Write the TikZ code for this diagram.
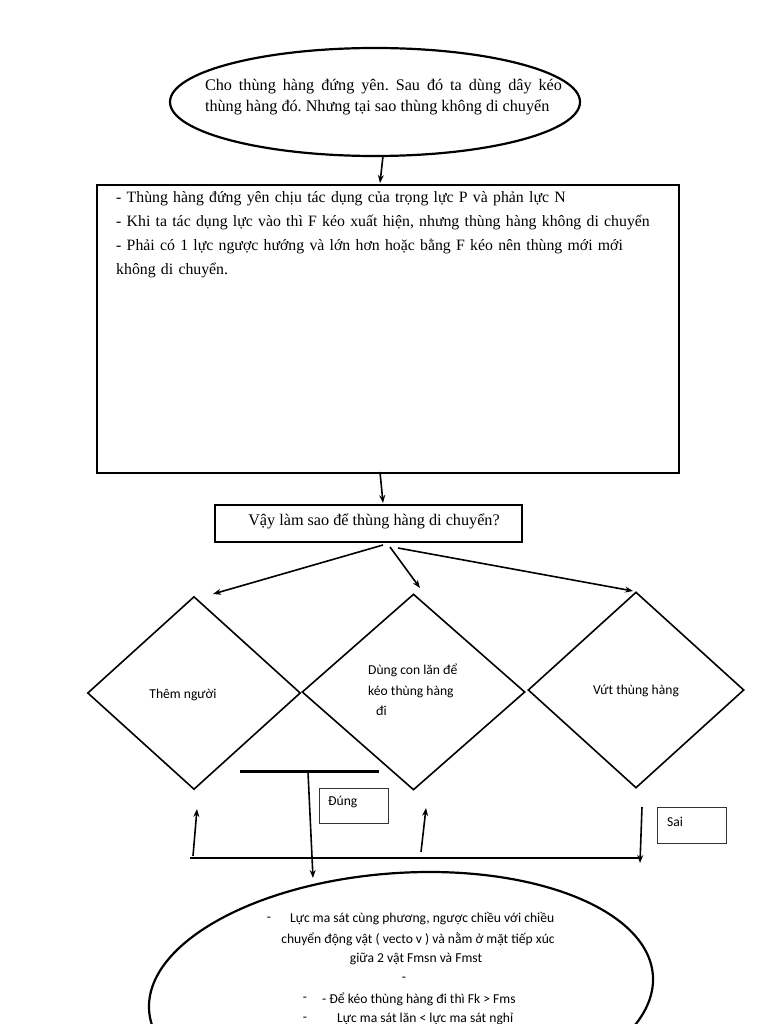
\documentclass[tikz,border=0pt]{standalone}
\usepackage{fontspec}
\setmainfont{Liberation Serif}
\newfontfamily\calib{Carlito}
\usetikzlibrary{shapes.geometric,arrows.meta,calc}
\frenchspacing
\begin{document}
\begin{tikzpicture}[x=1pt,y=1pt,
  arr/.style={-{Stealth[length=8pt,width=6pt]}, line width=1.6pt},
  dia/.style={diamond, draw, line width=1.6pt, inner sep=0pt},
  serif/.style={font=\fontsize{16}{20}\selectfont, inner sep=0pt},
  sans/.style={font=\calib\fontsize{13.6}{20}\selectfont, inner sep=0pt},
  thinbox/.style={draw=black!80, line width=0.9pt, inner sep=0pt}]
\useasboundingbox (0,0) rectangle (768,-1024);

% top ellipse
\node (e1) [ellipse, draw, line width=2.2pt, minimum width=410, minimum height=108, inner sep=0pt] at (375,-102) {};
\node (t1) [serif, font=\fontsize{16.2}{20.5}\selectfont, text width=357, align=justify] at (383.5,-97)
  {\frenchspacing Cho thùng hàng đứng yên. Sau đó ta dùng dây kéo\linebreak thùng hàng đó. Nhưng tại sao thùng không di chuyển};

% big box
\node (box) [draw, line width=2.4pt, minimum width=582, minimum height=288, anchor=north west, inner sep=0pt] at (96,-184) {};
\node (bt) [serif, font=\fontsize{15.8}{24}\selectfont, anchor=north west, text width=600, align=left] at (116,-191)
  {- Thùng hàng đứng yên chịu tác dụng của trọng lực P và phản lực N\\
   - Khi ta tác dụng lực vào thì F kéo xuất hiện, nhưng thùng hàng không di chuyển\\
   - Phải có 1 lực ngược hướng và lớn hơn hoặc bằng F kéo nên thùng mới mới\\
   không di chuyển.};

\coordinate (a1s) at (383,-156);
\coordinate (a1e) at (380,-183);
\draw[arr] (a1s) -- (a1e);

% question box
\node (q) [draw, line width=2.3pt, minimum width=307, minimum height=37, inner sep=0pt] at (368.5,-523.5) {};
\node (qt) [serif, font=\fontsize{16.2}{20}\selectfont] at (374,-521) {Vậy làm sao để thùng hàng di chuyển?};
\coordinate (a2s) at (380,-472);
\coordinate (a2e) at (383,-503);
\draw[arr] (a2s) -- (a2e);

% diamonds
\node (d1) [dia, minimum width=213, minimum height=193] at (194,-693) {};
\node (d2) [dia, minimum width=223, minimum height=196] at (413.5,-692) {};
\node (d3) [dia, minimum width=216, minimum height=196] at (636,-690) {};
\node (d1t) [sans] at (183,-695) {Thêm người};
\node (d2t) [sans, align=left, anchor=north west, font=\calib\fontsize{13.6}{20.5}\selectfont] at (368,-664) {Dùng con lăn để\\kéo thùng hàng\\\hspace{8pt}đi};
\node (d3t) [sans] at (636,-691) {Vứt thùng hàng};

% arrows from question
\coordinate (b1) at (383,-545);
\coordinate (b2) at (390,-547);
\coordinate (b3) at (398,-548);
\coordinate (c1) at (213,-594);
\coordinate (c2) at (420,-588);
\coordinate (c3) at (633,-591);
\draw[arr] (b1) -- (c1);
\draw[arr] (b2) -- (c2);
\draw[arr] (b3) -- (c3);

% thick horizontal line and down arrow to bottom ellipse
\coordinate (h1a) at (240,-771);
\coordinate (h1b) at (379,-771);
\draw[line width=3pt] (h1a) -- (h1b);
\coordinate (v1s) at (308,-772);
\coordinate (v1e) at (313,-878);
\draw[arr] (v1s) -- (v1e);

% Dung / Sai boxes
\node (db) [thinbox, minimum width=69, minimum height=35] at (353.5,-805.5) {};
\node (dt) [sans, anchor=west] at (328,-802) {Đúng};
\node (sb) [thinbox, minimum width=69, minimum height=36] at (691.5,-825) {};
\node (st) [sans, anchor=west] at (667,-822) {Sai};

% up arrows and horizontal line
\coordinate (u1s) at (193,-856);
\coordinate (u1e) at (197,-809);
\coordinate (u2s) at (421,-852);
\coordinate (u2e) at (426,-808);
\coordinate (u3s) at (642,-807);
\coordinate (u3e) at (640,-863);
\coordinate (hl1) at (190,-858);
\coordinate (hl2) at (640,-858);
\draw[arr] (u1s) -- (u1e);
\draw[arr] (u2s) -- (u2e);
\draw[line width=2.2pt] (hl1) -- (hl2);
\draw[arr] (u3s) -- (u3e);

% bottom ellipse
\node (e2) [ellipse, draw, line width=2.2pt, minimum width=505, minimum height=240, rotate=4, inner sep=0pt] at (401,-993) {};
\node (l1d) [sans] at (269,-919) {-};
\node (l1) [sans, anchor=west] at (290,-919) {Lực ma sát cùng phương, ngược chiều với chiều};
\node (l2) [sans] at (418,-939) {chuyển động vật ( vecto v ) và nằm ở mặt tiếp xúc};
\node (l3) [sans] at (416,-959) {giữa 2 vật Fmsn và Fmst};
\node (l4d) [sans] at (404,-979) {-};
\node (l5d) [sans] at (305,-999) {-};
\node (l5) [sans, anchor=west] at (322,-999) {- Để kéo thùng hàng đi thì Fk > Fms};
\node (l6d) [sans] at (305,-1019) {-};
\node (l6) [sans, anchor=west] at (337,-1019) {Lực ma sát lăn < lực ma sát nghỉ};
\end{tikzpicture}
\end{document}
